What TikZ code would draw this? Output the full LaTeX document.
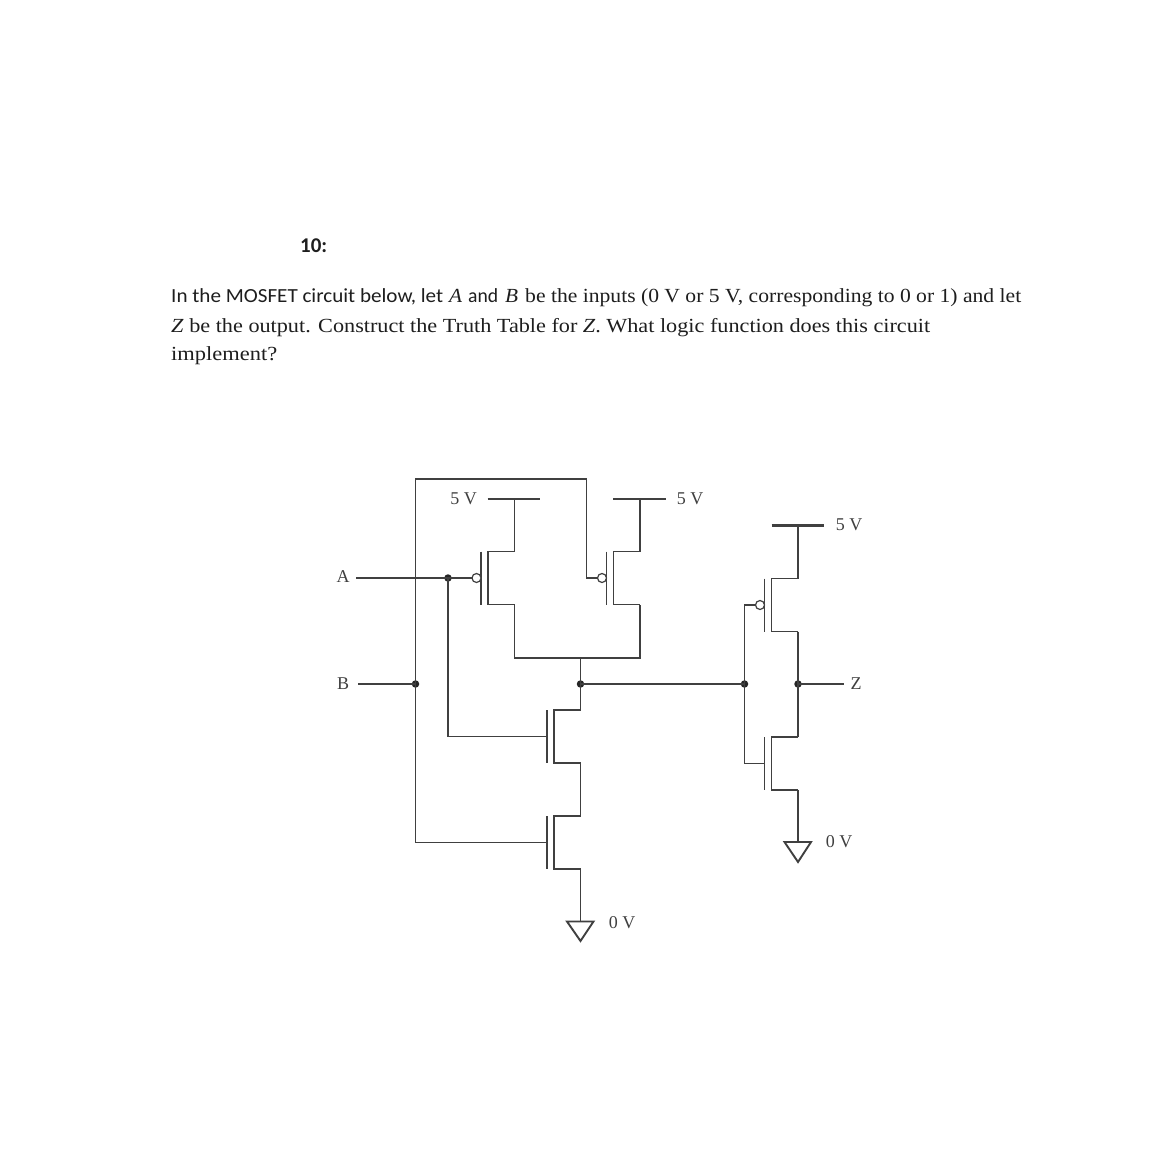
\documentclass[tikz,border=0pt]{standalone}
\usepackage{graphicx}
\usepackage{fontspec}
\setmainfont{Liberation Serif}
\newfontfamily\calfont{Carlito}
\definecolor{inkc}{HTML}{404040}
\definecolor{textc}{HTML}{1E1E1E}
\newcommand{\bodysize}{\fontsize{20}{24}\selectfont}
\newcommand{\fitline}[2]{\resizebox{#1pt}{\height}{#2}}
\newcommand{\mosfet}[3]{%
  % #1 name, #2 channel x, #3 top y
  \coordinate (#1-s) at (#2+26.5,#3);
  \coordinate (#1-d) at (#2+26.5,#3+53);
  \coordinate (#1-p) at (#2-7,#3+26.5);
  \draw[wire] (#1-s) -- (#2,#3) -- (#2,#3+53) -- (#1-d);
  \draw[plate] (#2-7,#3) -- (#2-7,#3+53);
}
\newcommand{\ptail}[1]{\node[bubble,anchor=east] (#1-b) at (#1-p) {};}
\tikzset{
  wire/.style={draw=inkc,line width=1.9pt,line join=miter},
  thinwire/.style={draw=inkc,line width=1.8pt},
  plate/.style={draw=inkc,line width=1.7pt},
  bubble/.style={circle,draw=inkc,fill=white,line width=1.2pt,minimum size=9pt,inner sep=0pt,outer sep=0pt},
  junction/.style={circle,fill=black!85,minimum size=7.5pt,inner sep=0pt},
  lab/.style={font=\fontsize{18}{20}\selectfont,text=inkc,inner sep=0pt},
  body/.style={anchor=base west,inner sep=0pt,text=textc,font=\bodysize},
  rail/.style={draw=inkc,line width=2.1pt},
  gnd/.style={draw=inkc,line width=1.9pt,line join=miter}
}
\begin{document}
\begin{tikzpicture}[x=1pt,y=-1pt]
\useasboundingbox (0,0) rectangle (1169,1169);
\fill[white] (0,0) rectangle (1169,1169);
% text
\node[body] (title) at (300,252) {\fitline{27}{\calfont\bfseries\fontsize{21}{24}\selectfont 10:}};
\node[body] (l1a) at (171,302) {\fitline{272}{\calfont In the MOSFET circuit below, let}};
\node[body] (l1b) at (449,302) {\fitline{13}{\itshape A}};
\node[body] (l1c) at (468,302) {\fitline{30}{\calfont and}};
\node[body] (l1d) at (505,302) {\fitline{13}{\itshape B}};
\node[body] (l1e) at (525,302) {\fitline{496}{be the inputs (0 V or 5 V, corresponding to 0 or 1) and let}};
\node[body] (l2) at (171,332) {\fitline{759}{\textit{Z} be the output. Construct the Truth Table for \textit{Z}. What logic function does this circuit}};
\node[body] (l3) at (171,360) {\fitline{106}{implement?}};
% labels
\node[lab] (v1) at (463.5,498.5) {5 V};
\node[lab] (v2) at (690,498.5) {5 V};
\node[lab] (v3) at (849,525) {5 V};
\node[lab] (inA) at (343,577) {A};
\node[lab] (inB) at (343,684) {B};
\node[lab] (outZ) at (856,684) {Z};
\node[lab] (g1) at (622,923) {0 V};
\node[lab] (g2) at (839,842) {0 V};
% transistors
\mosfet{p1}{488}{551.5}
\mosfet{p2}{613.5}{551.5}
\mosfet{p3}{771.5}{578.5}
\mosfet{n1}{554}{710}
\mosfet{n2}{554}{816}
\mosfet{n3}{771.5}{737}
\ptail{p1}\ptail{p2}\ptail{p3}
% supply rails
\coordinate (r1l) at (487.5,499); \coordinate (r1r) at (540,499); \coordinate (r1m) at (514.5,499);
\coordinate (r2l) at (613,499); \coordinate (r2r) at (666,499); \coordinate (r2m) at (640,499);
\coordinate (r3l) at (771.5,525.5); \coordinate (r3r) at (824,525.5); \coordinate (r3m) at (798,525.5);
\draw[rail] (r1l) -- (r1r);
\draw[rail] (r2l) -- (r2r);
\draw[rail] (r3l) -- (r3r);
\draw[wire] (r1m) -- (p1-s);
\draw[wire] (r2m) -- (p2-s);
\draw[wire] (r3m) -- (p3-s);
% junctions
\node[junction] (ja) at (448,578) {};
\node[junction] (jb) at (415.5,684) {};
\node[junction] (jo) at (580.5,684) {};
\node[junction] (ji) at (744.5,684) {};
\node[junction] (jz) at (798,684) {};
% free ends
\coordinate (ain) at (356,578);
\coordinate (bin) at (358,684);
\coordinate (zout) at (844,684);
\coordinate (ct) at (580.5,658);
% inputs
\draw[thinwire] (ain) -- (ja.center) -- (p1-b.west);
\draw[thinwire] (bin) -- (jb.center);
\draw[wire] (jb.center) -- (415.5,479) -- (586.5,479) |- (p2-b.west);
\draw[wire] (jb.center) |- (n2-p);
\draw[wire] (ja.center) |- (n1-p);
% first stage
\draw[wire] (p1-d) |- (ct) -| (p2-d);
\draw[wire] (ct) -- (jo.center) -- (n1-s);
\draw[wire] (n1-d) -- (n2-s);
% output stage
\draw[wire] (jo.center) -- (ji.center);
\draw[wire] (ji.center) |- (p3-b.west);
\draw[wire] (ji.center) |- (n3-p);
\draw[wire] (p3-d) -- (jz.center) -- (n3-s);
\draw[thinwire] (jz.center) -- (zout);
% grounds
\coordinate (gnd1) at (580.5,921.5);
\coordinate (gnd2) at (798,842);
\draw[wire] (n2-d) -- (gnd1);
\draw[wire] (n3-d) -- (gnd2);
\draw[gnd] (567,921.5) -- (593.5,921.5) -- (580.5,941) -- cycle;
\draw[gnd] (784.5,842) -- (811,842) -- (798,862) -- cycle;
\end{tikzpicture}
\end{document}
